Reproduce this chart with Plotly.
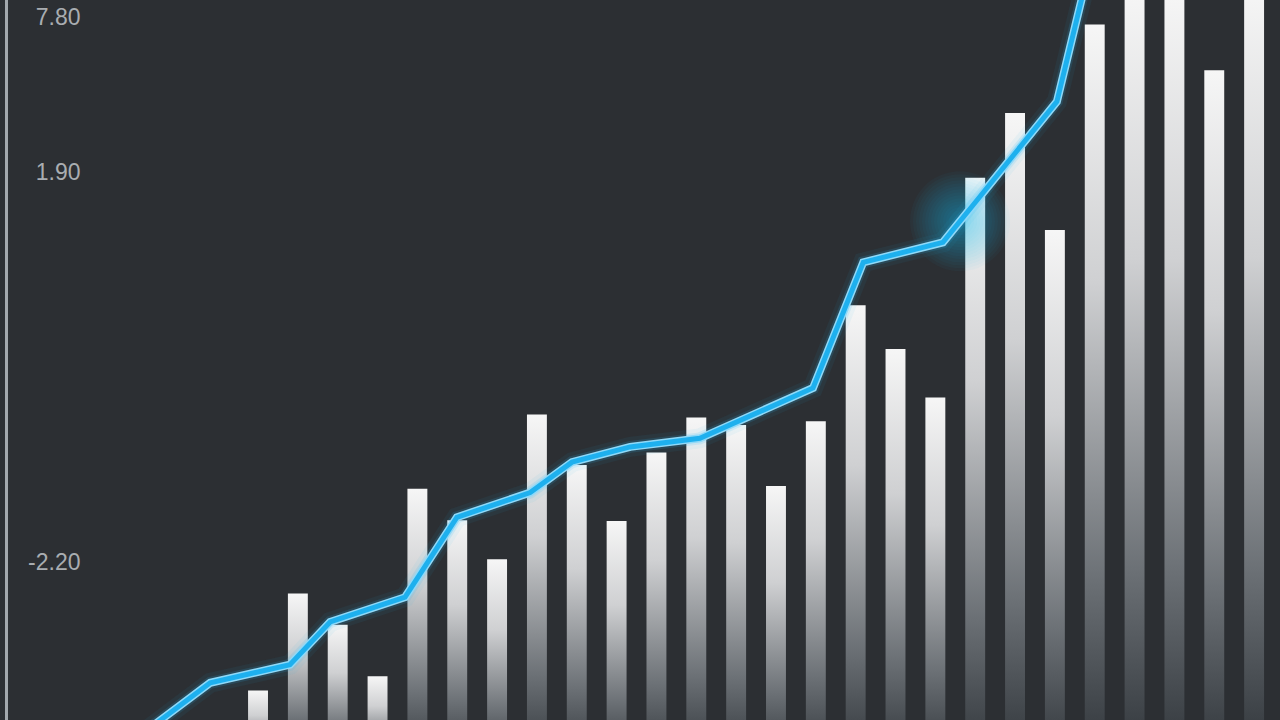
import plotly.graph_objects as go

# ---- data ----
bar_x = list(range(26))
bar_values = [-3.55, -2.53, -2.86, -3.40, -1.43, -1.76, -2.17, -0.65, -1.18, -1.77,
              -1.05, -0.68, -0.76, -1.40, -0.72, 0.50, 0.04, -0.47, 1.84, 2.52,
              1.29, 3.45, 3.82, 3.80, 2.97, 3.85]
bar_base = -4.3

line_x = [-2.71, -1.20, 0.80, 1.81, 3.69, 4.99, 6.83, 7.88, 9.34, 11.09,
          13.93, 15.19, 17.19, 20.05, 20.76]
line_y = [-3.945, -3.47, -3.28, -2.83, -2.57, -1.73, -1.47, -1.15, -0.99, -0.90,
          -0.37, 0.95, 1.16, 2.64, 3.87]

tick_vals = [3.53, 1.90, -2.20]
tick_text = ["7.80", "1.90", "-2.20"]

BG = "#2c2f33"
BAR_WIDTH = 0.5
bar_scale = [[0.0, "#2f3439"], [0.25, "#6c7176"], [0.65, "#cfd0d2"], [1.0, "#f6f6f6"]]

fig = go.Figure()

# bars as gradient-filled rectangles
for xv, top in zip(bar_x, bar_values):
    x0, x1 = xv - BAR_WIDTH / 2, xv + BAR_WIDTH / 2
    fig.add_trace(go.Scatter(
        x=[x0, x1, x1, x0, x0], y=[bar_base, bar_base, top, top, bar_base],
        mode="lines", fill="toself", line=dict(width=0),
        fillgradient=dict(type="vertical", colorscale=bar_scale),
        hoverinfo="skip", showlegend=False))

# soft glow spot along the line
gi = 12
gx = line_x[gi] + 0.15 * (line_x[gi + 1] - line_x[gi])
gy = line_y[gi] + 0.15 * (line_y[gi + 1] - line_y[gi])
n_glow = 16
for k in range(n_glow):
    s = 100 - k * 6
    fig.add_trace(go.Scatter(x=[gx], y=[gy], mode="markers",
                             marker=dict(size=s, color="rgba(40,200,255,0.035)", line=dict(width=0)),
                             hoverinfo="skip", showlegend=False))

# glowing line
for w, c in [(20, "rgba(41,182,246,0.06)"), (12, "rgba(41,182,246,0.14)"),
             (8, "#8fd9f8"), (5, "#1eb0ee")]:
    fig.add_trace(go.Scatter(x=line_x, y=line_y, mode="lines",
                             line=dict(color=c, width=w),
                             hoverinfo="skip", showlegend=False))

# helper trace for the label axis
fig.add_trace(go.Scatter(x=[bar_x[0]], y=[bar_values[0]], yaxis="y2", mode="markers",
                         marker=dict(opacity=0), hoverinfo="skip", showlegend=False))

yrange = [-3.861, 3.708]
fig.update_layout(
    width=1280, height=720,
    paper_bgcolor=BG, plot_bgcolor=BG,
    margin=dict(l=8, r=0, t=0, b=0),
    showlegend=False,
    xaxis=dict(range=[-6.275, 25.65], visible=False, fixedrange=True),
    yaxis=dict(range=yrange, showline=True, linecolor="#a3a8ad", linewidth=3,
               showgrid=False, zeroline=False, showticklabels=False, ticks=""),
    yaxis2=dict(range=yrange, overlaying="y", anchor="free", position=0.057, side="left",
                showline=False, showgrid=False, zeroline=False, ticks="",
                tickvals=tick_vals, ticktext=tick_text,
                tickfont=dict(family="Liberation Sans", size=23, color="#a9adb1")),
)

fig.write_html("out.html", config={"displayModeBar": False},
               post_script="document.body.style.margin='0';document.body.style.background='" + BG + "';")
